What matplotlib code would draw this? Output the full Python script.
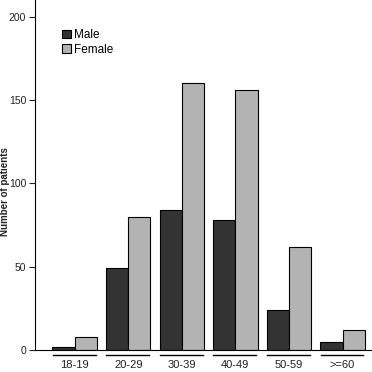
import matplotlib
matplotlib.use("Agg")
import matplotlib.pyplot as plt
import numpy as np

plt.rcParams['font.family'] = ['Liberation Sans', 'DejaVu Sans']

categories = ["18-19", "20-29", "30-39", "40-49", "50-59", ">=60"]
male = [2, 49, 84, 78, 24, 5]
female = [8, 80, 160, 156, 62, 12]

fig = plt.figure(figsize=(3.72, 3.72), dpi=100)
ax = fig.add_axes([35/372, 22/372, 1 - 35/372 + 0.01, 350/372])

x = np.arange(len(categories))
w = 0.415
ax.bar(x - w/2, male, w, color="#333333", edgecolor="black", linewidth=0.8, label="Male")
ax.bar(x + w/2, female, w, color="#b3b3b3", edgecolor="black", linewidth=0.8, label="Female")

ax.set_xlim(-0.74, 5.62)
ax.set_ylim(0, 210)
ax.set_yticks([0, 50, 100, 150, 200])
ax.tick_params(axis='y', labelsize=7.5, length=4.3, width=0.8, pad=2, colors="#222222")
ax.set_xticks([])
for s in ["top", "right"]:
    ax.spines[s].set_visible(False)
ax.spines["left"].set_linewidth(0.8)
ax.spines["bottom"].set_linewidth(0.8)

# group underlines and labels
for i, c in enumerate(categories):
    ax.plot([i - 0.41, i + 0.39], [-3.2, -3.2], color="black", lw=1.0, clip_on=False)
    ax.text(i, -9.2, c, ha="center", va="center", fontsize=8, color="#222222", clip_on=False)

fig.text(5/372, 1 - 192/372, "Number of patients", rotation=90, ha="center", va="center",
         fontsize=7, fontweight="bold", color="#222222")

leg = ax.legend(loc="upper left", bbox_to_anchor=(0.055, 0.94), frameon=False, fontsize=8.5,
                handlelength=0.75, handleheight=0.75, handletextpad=0.3, labelspacing=0.2, borderpad=0.2)

fig.savefig("out.png", dpi=100)
